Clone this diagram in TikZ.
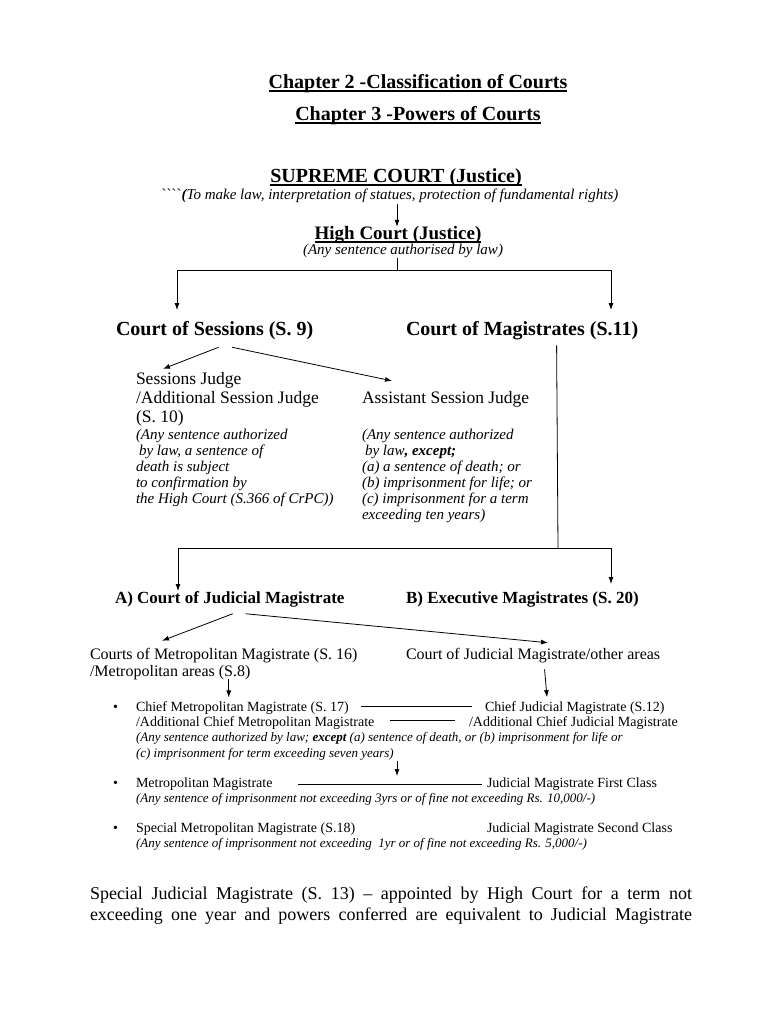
\documentclass[tikz,border=0pt]{standalone}
\usepackage{fontspec}
\setmainfont{Liberation Serif}
\newfontfamily\rawserif{Liberation Serif}[Ligatures=TeXOff]
\usetikzlibrary{arrows.meta}
\newcommand\undertext[1]{\setbox0\hbox{#1}\rlap{\rule[-2.6pt]{\wd0}{1.3pt}}\box0}

\begin{document}
\begin{tikzpicture}[x=1pt, y=-1pt,
  every node/.style={inner sep=0pt, outer sep=0pt},
  title/.style={font=\bfseries\fontsize{20}{24}\selectfont, anchor=base},
  hcourt/.style={font=\bfseries\fontsize{19}{22}\selectfont, anchor=base},
  court/.style={font=\bfseries\fontsize{20}{24}\selectfont, anchor=base west},
  txt/.style={font=\fontsize{17.5}{19}\selectfont, anchor=base west, align=left},
  note/.style={font=\itshape\fontsize{15}{16}\selectfont, anchor=base west, align=left},
  sub/.style={font=\bfseries\fontsize{17}{20}\selectfont, anchor=base west},
  mid/.style={font=\fontsize{16}{17}\selectfont, anchor=base west, align=left},
  row/.style={font=\fontsize{14}{15}\selectfont, anchor=base west},
  snote/.style={font=\itshape\fontsize{13}{16}\selectfont, anchor=base west, align=left},
  para/.style={font=\fontsize{18}{21}\selectfont, anchor=base west, align=left},
  arr/.style={-{Latex[length=7pt,width=5pt]}},
  line width=0.8pt]

\fill[white] (0,0) rectangle (768,1024);
\useasboundingbox (0,0) rectangle (768,1024);

% headings (multi-line nodes sit on their last baseline)
\node[title] (ch2) at (418,89) {\undertext{Chapter 2 -Classification of Courts}};
\node[title] (ch3) at (418,121) {\undertext{Chapter 3 -Powers of Courts}};
\node[title] (sc) at (396,183) {\undertext{SUPREME COURT (Justice)}};
\node[note, anchor=base] (scnote) at (390,199.5) {{\rawserif\upshape ````}\textbf{(}To make law, interpretation of statues, protection of fundamental rights)};
\node[hcourt] (hc) at (398,240) {\undertext{High Court (Justice)}};
\node[note, anchor=base] (hcnote) at (403,254) {(Any sentence authorised by law)};

\node[court] (cs) at (116,335) {Court of Sessions (S. 9)};
\node[court] (cm) at (406,335) {Court of Magistrates (S.11)};

% sessions side
\node[txt] (sj) at (136,422) {Sessions Judge\\/Additional Session Judge\\(S. 10)};
\node[note] (sjnote) at (136,503) {(Any sentence authorized\\\hspace{3pt}by law, a sentence of\\death is subject\\to confirmation by\\the High Court (S.366 of CrPC))};
\node[txt] (asj) at (362,403) {Assistant Session Judge};
\node[note] (asjnote) at (362,519) {(Any sentence authorized\\\hspace{3pt}by law\textbf{, except;}\\(a) a sentence of death; or\\(b) imprisonment for life; or\\(c) imprisonment for a term\\exceeding ten years)};

% magistrates side
\node[sub] (jm) at (115,603) {A) Court of Judicial Magistrate};
\node[sub] (em) at (406,603) {B) Executive Magistrates (S. 20)};
\node[mid] (cmm) at (90,676) {Courts of Metropolitan Magistrate (S. 16)\\/Metropolitan areas (S.8)};
\node[mid] (cjmo) at (406,659) {Court of Judicial Magistrate/other areas};

\node[row] (b1) at (113,711) {\textbullet};
\node[row] (chm) at (136,711) {Chief Metropolitan Magistrate (S. 17)};
\node[row] (chj) at (485,711) {Chief Judicial Magistrate (S.12)};
\node[row] (achm) at (136,726) {/Additional Chief Metropolitan Magistrate};
\node[row] (achj) at (469,726) {/Additional Chief Judicial Magistrate};
\node[snote] (n1) at (136,757) {(Any sentence authorized by law; \textbf{except} (a) sentence of death, or (b) imprisonment for life or\\(c) imprisonment for term exceeding seven years)};

\node[row] (b2) at (113,787) {\textbullet};
\node[row] (mm) at (136,787) {Metropolitan Magistrate};
\node[row] (jmf) at (487,787) {Judicial Magistrate First Class};
\node[snote] (n2) at (136,802) {(Any sentence of imprisonment not exceeding 3yrs or of fine not exceeding Rs. 10,000/-)};

\node[row] (b3) at (113,832) {\textbullet};
\node[row] (smm) at (136,832) {Special Metropolitan Magistrate (S.18)};
\node[row] (jms) at (487,832) {Judicial Magistrate Second Class};
\node[snote] (n3) at (136,847) {(Any sentence of imprisonment not exceeding \ 1yr or of fine not exceeding Rs. 5,000/-)};

\node[para] (sjm) at (90,920) {\makebox[602pt][s]{Special Judicial Magistrate (S. 13) – appointed by High Court for a term not}\\\makebox[602pt][s]{exceeding one year and powers conferred are equivalent to Judicial Magistrate}};

% connectors
\coordinate (hsplit) at (397,270);
\coordinate (hl) at (177,270);
\coordinate (hr) at (611,270);
\coordinate (mj) at (558,548);
\coordinate (ml) at (178,548);
\coordinate (mr) at (611,548);
\coordinate (d1) at (397,761);

\draw[arr] ([yshift=-1]scnote.south -| hsplit) -- (hc.north -| hsplit);
\draw ([yshift=-1]hcnote.south -| hsplit) -- (hsplit);
\draw (hl) -- (hr);
\draw[arr] (hl) -- ++(0,40);
\draw[arr] (hr) -- ++(0,40);

\draw[arr] ([shift={(4,8)}]cs.south) -- ([shift={(27,-3)}]sj.north west);
\draw[arr] ([shift={(17.5,8)}]cs.south) -- ([shift={(30,-10)}]asj.north west);

\draw ([shift={(34.5,6)}]cm.south) -- (mj);
\draw (ml) -- (mr);
\draw[arr] (ml) -- (ml |- jm.north);
\draw[arr] (mr) -- ++(0,36);

\draw[arr] ([shift={(3,7)}]jm.south) -- ([shift={(72,-7)}]cmm.north west);
\draw[arr] ([shift={(16,7)}]jm.south) -- ([shift={(142,-5)}]cjmo.north west);
\draw[arr] ([shift={(5,0)}]cmm.south) -- ++(0,18);
\draw[arr] ([shift={(11.5,7)}]cjmo.south) -- ([shift={(62,-4)}]chj.north west);

\draw ([shift={(12,-5)}]chm.base east) -- ([shift={(-13,-5)}]chj.base west);
\draw ([shift={(16,-6)}]achm.base east) -- ([shift={(-14,-6)}]achj.base west);
\draw[arr] (d1) -- ++(0,15);
\draw ([shift={(26,-3)}]mm.base east) -- ([shift={(-5,-3)}]jmf.base west);

\end{tikzpicture}
\end{document}
